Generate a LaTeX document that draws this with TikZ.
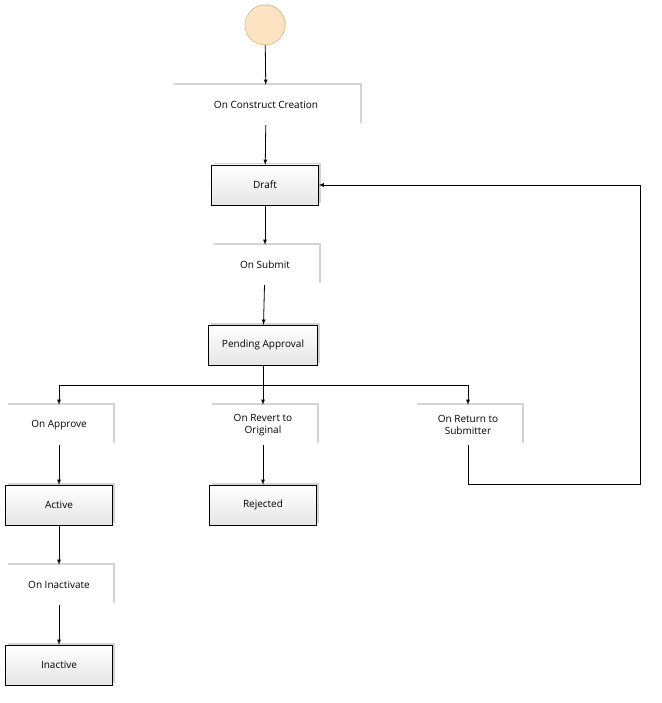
\documentclass[tikz,border=0pt]{standalone}
\usepackage{fontspec}
\setmainfont{Open Sans}
\usetikzlibrary{arrows,shadows}
\definecolor{startfill}{RGB}{255,228,196}
\definecolor{startline}{RGB}{214,170,90}
\tikzset{
  event/.style={rectangle,fill=white,minimum width=107pt,minimum height=40pt,
    align=center,font=\fontsize{10}{12}\selectfont,drop shadow={shadow xshift=2pt,shadow yshift=2pt,opacity=0.35}},
  state/.style={event,draw=black,top color=white,bottom color=gray!20},
  flow/.style={-latex,line width=0.8pt}
}
\begin{document}
\begin{tikzpicture}[x=1pt,y=-1pt]
\useasboundingbox (0,0) rectangle (661,703);

\node[circle,draw=startline,fill=startfill,minimum size=40pt,inner sep=0pt,
  drop shadow={shadow xshift=1pt,shadow yshift=1pt,opacity=0.2}] (start) at (265,25) {};
\node[event,minimum width=188pt] (create) at (266,105) {On Construct Creation};
\node[state] (draft) at (265,185) {Draft};
\node[event] (submit) at (265,265) {On Submit};
\node[state,minimum width=109pt] (pending) at (263,345) {Pending Approval};
\node[event] (approve) at (59,425) {On Approve};
\node[event] (revert) at (263,425) {On Revert to\\Original};
\node[event] (return) at (468,425) {On Return to\\Submitter};
\node[state] (active) at (59,505) {Active};
\node[state] (rejected) at (263,505) {Rejected};
\node[event] (inact) at (59,585) {On Inactivate};
\node[state] (inactive) at (59,665) {Inactive};

\coordinate (bus) at (263,385);
\coordinate (loop) at (640,484);

\draw[flow] (start) -- (create);
\draw[flow] (create) -- (draft);
\draw[flow] (draft) -- (submit);
\draw[flow] (submit) -- (pending);
\draw[flow] (pending) -- (revert);
\draw[flow] (bus) -| (approve);
\draw[flow] (bus) -| (return);
\draw[flow] (approve) -- (active);
\draw[flow] (revert) -- (rejected);
\draw[flow] (active) -- (inact);
\draw[flow] (inact) -- (inactive);
\draw[flow] (return) |- (loop) |- (draft);
\end{tikzpicture}
\end{document}
